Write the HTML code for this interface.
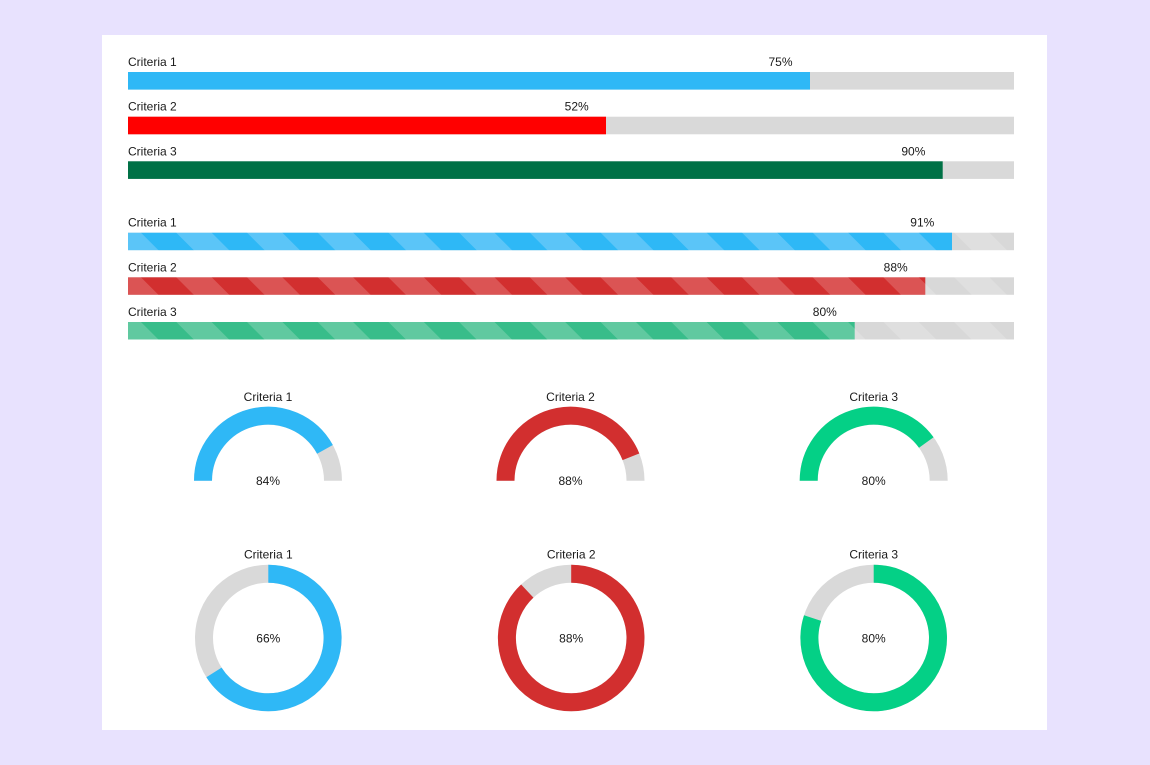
<!DOCTYPE html>
<html>
<head>
<meta charset="utf-8">
<style>
html,body{margin:0;padding:0;background:#e8e2fe;}
svg{display:block;}
text{font-family:"Liberation Sans",Arial,sans-serif;font-size:12px;fill:#1a1a1a;}
</style>
</head>
<body>
<svg width="1150" height="765" viewBox="0 0 1150 765" xmlns="http://www.w3.org/2000/svg">
<defs>
  <pattern id="pB" patternUnits="userSpaceOnUse" width="50" height="50" patternTransform="translate(-22.4,0) rotate(-45)">
    <rect x="0" y="0" width="25" height="50" fill="#5bc5f8"/>
    <rect x="25" y="0" width="25" height="50" fill="#2eb8f6"/>
  </pattern>
  <pattern id="pR" patternUnits="userSpaceOnUse" width="50" height="50" patternTransform="translate(-22.4,0) rotate(-45)">
    <rect x="0" y="0" width="25" height="50" fill="#db5454"/>
    <rect x="25" y="0" width="25" height="50" fill="#d22f2f"/>
  </pattern>
  <pattern id="pG" patternUnits="userSpaceOnUse" width="50" height="50" patternTransform="translate(-22.4,0) rotate(-45)">
    <rect x="0" y="0" width="25" height="50" fill="#60c9a0"/>
    <rect x="25" y="0" width="25" height="50" fill="#38bd8a"/>
  </pattern>
  <pattern id="pT" patternUnits="userSpaceOnUse" width="50" height="50" patternTransform="translate(-22.4,0) rotate(-45)">
    <rect x="0" y="0" width="25" height="50" fill="#dfdfdf"/>
    <rect x="25" y="0" width="25" height="50" fill="#d8d8d8"/>
  </pattern>
</defs>

<rect x="0" y="0" width="1150" height="765" fill="#e8e2fe"/>
<rect x="102" y="35" width="945" height="695" fill="#ffffff"/>

<!-- Solid bars -->
<text x="128" y="66">Criteria 1</text>
<text x="792.5" y="66" text-anchor="end">75%</text>
<rect x="128" y="72" width="886" height="17.6" fill="#d9d9d9"/>
<rect x="128" y="72" width="682" height="17.6" fill="#2fb8f6"/>

<text x="128" y="110.7">Criteria 2</text>
<text x="588.7" y="110.7" text-anchor="end">52%</text>
<rect x="128" y="116.7" width="886" height="17.6" fill="#d9d9d9"/>
<rect x="128" y="116.7" width="478" height="17.6" fill="#ff0000"/>

<text x="128" y="155.3">Criteria 3</text>
<text x="925.4" y="155.3" text-anchor="end">90%</text>
<rect x="128" y="161.3" width="886" height="17.6" fill="#d9d9d9"/>
<rect x="128" y="161.3" width="814.7" height="17.6" fill="#007146"/>

<!-- Striped bars -->
<text x="128" y="226.7">Criteria 1</text>
<text x="934.3" y="226.7" text-anchor="end">91%</text>
<g transform="translate(128,232.7)">
  <rect x="0" y="0" width="886" height="17.5" fill="url(#pT)"/>
  <rect x="0" y="0" width="824" height="17.5" fill="url(#pB)"/>
</g>

<text x="128" y="271.3">Criteria 2</text>
<text x="907.7" y="271.3" text-anchor="end">88%</text>
<g transform="translate(128,277.3)">
  <rect x="0" y="0" width="886" height="17.5" fill="url(#pT)"/>
  <rect x="0" y="0" width="797.3" height="17.5" fill="url(#pR)"/>
</g>

<text x="128" y="316">Criteria 3</text>
<text x="836.8" y="316" text-anchor="end">80%</text>
<g transform="translate(128,322)">
  <rect x="0" y="0" width="886" height="17.5" fill="url(#pT)"/>
  <rect x="0" y="0" width="726.7" height="17.5" fill="url(#pG)"/>
</g>

<!-- Gauges -->
<g fill="none" stroke-width="18">
  <path d="M 203 480.7 A 65 65 0 0 1 333 480.7" stroke="#d9d9d9"/>
  <path d="M 203 480.7 A 65 65 0 0 1 324.96 449.38" stroke="#2fb8f6"/>

  <path d="M 505.5 480.7 A 65 65 0 0 1 635.5 480.7" stroke="#d9d9d9"/>
  <path d="M 505.5 480.7 A 65 65 0 0 1 630.94 456.77" stroke="#d22f2f"/>

  <path d="M 808.7 480.7 A 65 65 0 0 1 938.7 480.7" stroke="#d9d9d9"/>
  <path d="M 808.7 480.7 A 65 65 0 0 1 926.29 442.49" stroke="#04d086"/>
</g>
<text x="268" y="401" text-anchor="middle">Criteria 1</text>
<text x="268" y="485" text-anchor="middle">84%</text>
<text x="570.5" y="401" text-anchor="middle">Criteria 2</text>
<text x="570.5" y="485" text-anchor="middle">88%</text>
<text x="873.7" y="401" text-anchor="middle">Criteria 3</text>
<text x="873.7" y="485" text-anchor="middle">80%</text>

<!-- Donuts -->
<g fill="none" stroke-width="18">
  <circle cx="268.3" cy="638" r="64.3" stroke="#d9d9d9"/>
  <circle cx="268.3" cy="638" r="64.3" stroke="#2fb8f6" stroke-dasharray="266.6 404" transform="rotate(-90 268.3 638)"/>

  <circle cx="571.2" cy="638" r="64.3" stroke="#d9d9d9"/>
  <circle cx="571.2" cy="638" r="64.3" stroke="#d22f2f" stroke-dasharray="355.5 404" transform="rotate(-90 571.2 638)"/>

  <circle cx="873.7" cy="638" r="64.3" stroke="#d9d9d9"/>
  <circle cx="873.7" cy="638" r="64.3" stroke="#04d086" stroke-dasharray="323.2 404" transform="rotate(-90 873.7 638)"/>
</g>
<text x="268.3" y="558.3" text-anchor="middle">Criteria 1</text>
<text x="268.3" y="642.3" text-anchor="middle">66%</text>
<text x="571.2" y="558.3" text-anchor="middle">Criteria 2</text>
<text x="571.2" y="642.3" text-anchor="middle">88%</text>
<text x="873.7" y="558.3" text-anchor="middle">Criteria 3</text>
<text x="873.7" y="642.3" text-anchor="middle">80%</text>
</svg>
</body>
</html>
